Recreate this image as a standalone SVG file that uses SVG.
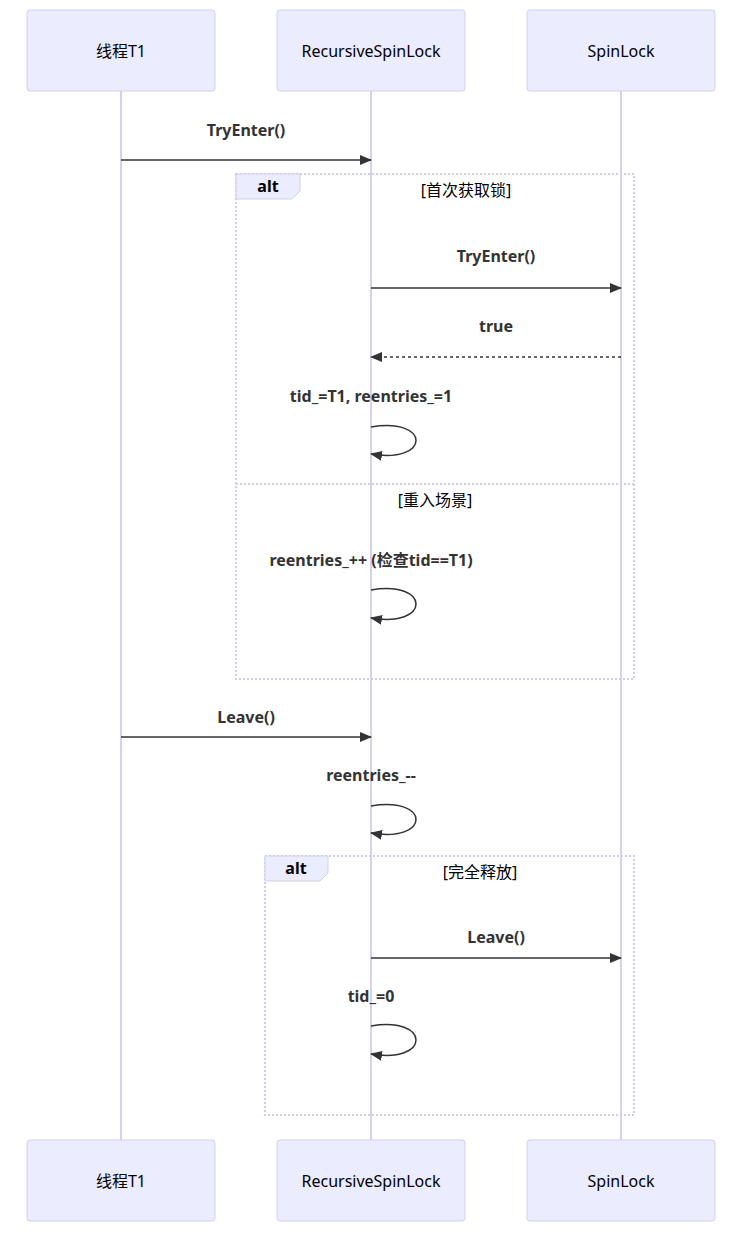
<svg xmlns="http://www.w3.org/2000/svg" width="737" height="1234" viewBox="0 0 737 1234">
<style>
.actor{fill:#ECECFF;stroke:#D6CCF0;stroke-width:1}
.at{font-family:"Noto Sans","Noto Sans CJK SC",sans-serif;font-size:16px;fill:#000;text-anchor:middle;dominant-baseline:central}
.life{stroke:#D9CFF2;stroke-width:2}
.msg{stroke:#333;stroke-width:1.5;fill:none}
.mt{font-family:"Noto Sans","Noto Sans CJK SC",sans-serif;font-size:16px;font-weight:bold;fill:#333;text-anchor:middle}
.loop{stroke:#D3CCE8;stroke-width:2;stroke-dasharray:2,2;fill:none}
.tab{fill:#ECECFF;stroke:#D3CCE8;stroke-width:1}
.lt{font-family:"Noto Sans","Noto Sans CJK SC",sans-serif;font-size:16px;fill:#000;text-anchor:middle}
</style>
<defs>
<marker id="ah" viewBox="0 0 12 10" refX="11" refY="5" markerWidth="12" markerHeight="10" orient="auto" markerUnits="userSpaceOnUse"><path d="M0,0 L12,5 L0,10 z" fill="#333"/></marker>
</defs>
<g id="lifelines">
<line class="life" x1="121" y1="91" x2="121" y2="1140"/>
<line class="life" x1="371" y1="91" x2="371" y2="1140"/>
<line class="life" x1="621" y1="91" x2="621" y2="1140"/>
</g>
<g id="a1"><rect class="actor" x="27" y="10" width="188" height="81" rx="3"/><text class="at" x="121" y="51">线程T1</text></g>
<g id="a2"><rect class="actor" x="277" y="10" width="188" height="81" rx="3"/><text class="at" x="371" y="51">RecursiveSpinLock</text></g>
<g id="a3"><rect class="actor" x="527" y="10" width="188" height="81" rx="3"/><text class="at" x="621" y="51">SpinLock</text></g>
<g id="b1"><rect class="actor" x="27" y="1140" width="188" height="81" rx="3"/><text class="at" x="121" y="1181">线程T1</text></g>
<g id="b2"><rect class="actor" x="277" y="1140" width="188" height="81" rx="3"/><text class="at" x="371" y="1181">RecursiveSpinLock</text></g>
<g id="b3"><rect class="actor" x="527" y="1140" width="188" height="81" rx="3"/><text class="at" x="621" y="1181">SpinLock</text></g>
<g id="alt1">
<rect class="loop" x="236" y="174" width="398" height="505"/>
<path class="tab" d="M236,174 H300 V191 L292,199 H236 Z"/>
<text class="lt" x="268" y="192" style="font-weight:bold">alt</text>
<text class="lt" x="466" y="196">[首次获取锁]</text>
<line class="loop" x1="236" y1="484" x2="634" y2="484"/>
<text class="lt" x="435" y="506">[重入场景]</text>
</g>
<g id="alt2">
<rect class="loop" x="265" y="856" width="369" height="259"/>
<path class="tab" d="M265,856 H328 V873 L320,881 H265 Z"/>
<text class="lt" x="296" y="874" style="font-weight:bold">alt</text>
<text class="lt" x="480" y="878">[完全释放]</text>
</g>
<g id="connectors">
<text class="mt" x="246" y="136">TryEnter()</text>
<line class="msg" x1="121" y1="160" x2="371" y2="160" marker-end="url(#ah)"/>
<text class="mt" x="496" y="262">TryEnter()</text>
<line class="msg" x1="371" y1="288" x2="621" y2="288" marker-end="url(#ah)"/>
<text class="mt" x="496" y="332">true</text>
<line class="msg" x1="621" y1="357" x2="371" y2="357" stroke-dasharray="3,3" marker-end="url(#ah)"/>
<text class="mt" x="371" y="402">tid_=T1, reentries_=1</text>
<path class="msg" d="M371,427 C431,417 431,464 371,454" marker-end="url(#ah)"/>
<text class="mt" x="371" y="566">reentries_++ (检查tid==T1)</text>
<path class="msg" d="M371,590 C431,580 431,628 371,618" marker-end="url(#ah)"/>
<text class="mt" x="246" y="723">Leave()</text>
<line class="msg" x1="121" y1="737" x2="371" y2="737" marker-end="url(#ah)"/>
<text class="mt" x="371" y="781">reentries_--</text>
<path class="msg" d="M371,806 C431,796 431,843 371,833" marker-end="url(#ah)"/>
<text class="mt" x="496" y="943">Leave()</text>
<line class="msg" x1="371" y1="958" x2="621" y2="958" marker-end="url(#ah)"/>
<text class="mt" x="371" y="1002">tid_=0</text>
<path class="msg" d="M371,1026 C431,1016 431,1064 371,1054" marker-end="url(#ah)"/>
</g>
</svg>
